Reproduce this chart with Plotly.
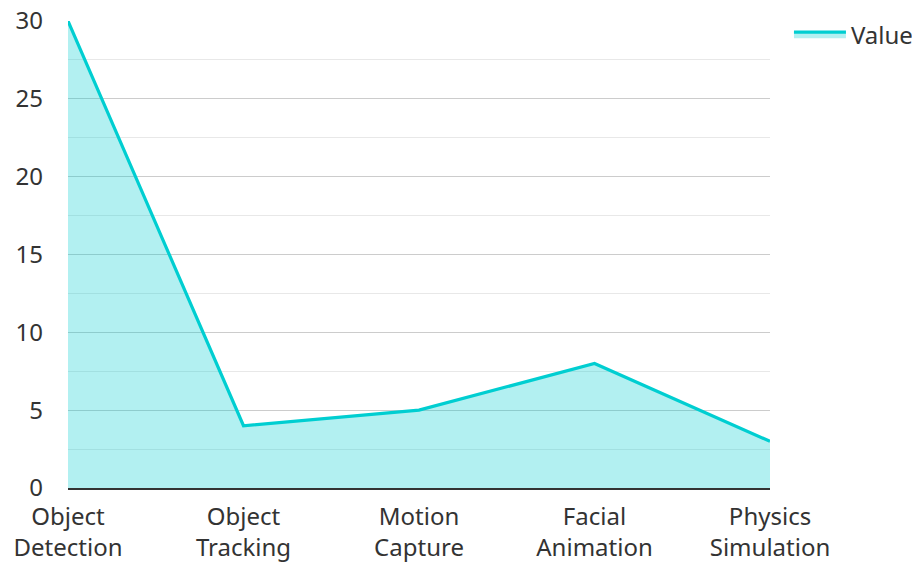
import plotly.graph_objects as go

categories = ["Object<br>Detection", "Object<br>Tracking", "Motion<br>Capture", "Facial<br>Animation", "Physics<br>Simulation"]
values = [30, 4, 5, 8, 3]
series_name = "Value"
y_ticks = [0, 5, 10, 15, 20, 25, 30]

fig = go.Figure()
fig.add_trace(go.Scatter(
    x=categories, y=values, name=series_name, mode="lines",
    line=dict(color="#00CED1", width=3.2),
    fill="tozeroy", fillcolor="rgba(0,206,209,0.3)",
))

font = dict(family="Noto Sans, Open Sans, sans-serif", size=24, color="#333333")
fig.update_layout(
    width=912, height=554,
    margin=dict(l=60, r=150, t=13, b=74, autoexpand=False),
    paper_bgcolor="white", plot_bgcolor="white",
    font=font,
    showlegend=True,
    legend=dict(x=1.027, y=0.9926, xanchor="left", yanchor="top", yref="container",
                font=font, bgcolor="rgba(0,0,0,0)", itemwidth=52),
)
fig.update_xaxes(
    type="category", range=[0, 4], showgrid=False,
    showline=True, linecolor="#333333", linewidth=2,
    ticks="", tickfont=font, automargin=False, ticklabelstandoff=6,
)
fig.update_yaxes(
    range=[0, 30], tickmode="array", tickvals=y_ticks,
    showgrid=True, gridcolor="#cccccc", gridwidth=1,
    minor=dict(tickmode="linear", tick0=0, dtick=2.5, showgrid=True, gridcolor="#e8e8e8", gridwidth=1),
    zeroline=False, showline=False, ticks="", ticklabelstandoff=24,
    ticklabeloverflow="allow", tickfont=font, automargin=False,
)
fig.write_html("out.html")
